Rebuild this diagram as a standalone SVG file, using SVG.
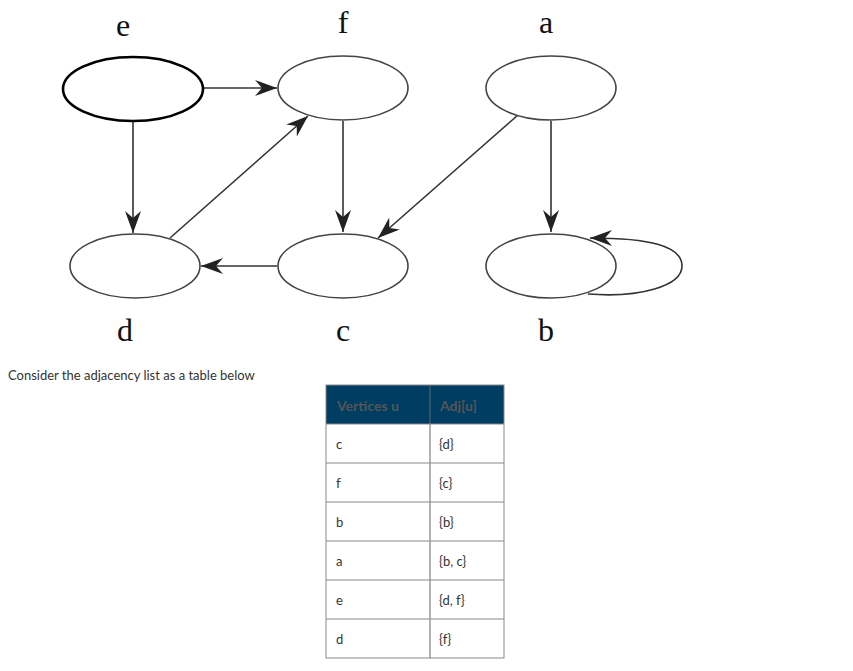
<svg xmlns="http://www.w3.org/2000/svg" width="853" height="671" viewBox="0 0 853 671">
<style>
.n{fill:#fff;stroke:#444;stroke-width:1.6}
.l{font-family:"Liberation Serif",serif;font-size:32px;fill:#111;text-anchor:middle}
.e{fill:none;stroke:#333;stroke-width:1.6}
.t{font-family:"Lato","Liberation Sans",sans-serif;font-size:13px;fill:#333}
.h{font-family:"Lato","Liberation Sans",sans-serif;font-size:14px;font-weight:bold;fill:#555}
.g{fill:none;stroke:#888;stroke-width:1}
</style>
<defs><marker id="ar" markerWidth="24" markerHeight="16" refX="22" refY="8" orient="auto" markerUnits="userSpaceOnUse"><path d="M0,0 L22,8 L0,16 L7,8 Z" fill="#222"/></marker></defs>
<rect width="853" height="671" fill="#fff"/>
<g id="connectors">
<line class="e" x1="204" y1="88" x2="277" y2="88" marker-end="url(#ar)"/>
<line class="e" x1="133" y1="122" x2="133" y2="233" marker-end="url(#ar)"/>
<line class="e" x1="170" y1="238" x2="308" y2="116" marker-end="url(#ar)"/>
<line class="e" x1="343" y1="121" x2="343" y2="232" marker-end="url(#ar)"/>
<line class="e" x1="518" y1="115" x2="378" y2="238" marker-end="url(#ar)"/>
<line class="e" x1="551" y1="121" x2="551" y2="232" marker-end="url(#ar)"/>
<line class="e" x1="277" y1="266" x2="201" y2="266" marker-end="url(#ar)"/>
<path class="e" d="M588,294 C640,298 682,286 682,266 C682,246 650,238 590,238" marker-end="url(#ar)"/>
</g>
<g id="e"><ellipse class="n" cx="133" cy="89" rx="70" ry="32" style="stroke:#000;stroke-width:2.6"/><text class="l" x="123" y="36">e</text></g>
<g id="f"><ellipse class="n" cx="343" cy="88" rx="65" ry="32"/><text class="l" x="343" y="33">f</text></g>
<g id="a"><ellipse class="n" cx="551" cy="88" rx="65" ry="32"/><text class="l" x="546" y="33">a</text></g>
<g id="d"><ellipse class="n" cx="135" cy="266" rx="65" ry="32"/><text class="l" x="125" y="341">d</text></g>
<g id="c"><ellipse class="n" cx="343" cy="266" rx="65" ry="32"/><text class="l" x="343" y="341">c</text></g>
<g id="b"><ellipse class="n" cx="551" cy="266" rx="65" ry="32"/><text class="l" x="546" y="341">b</text></g>
<text class="t" x="8" y="380">Consider the adjacency list as a table below</text>
<g id="table">
<rect x="326" y="385" width="178" height="39" fill="#003d63"/>
<rect class="g" x="326" y="385" width="178" height="273"/>
<line class="g" x1="430" y1="385" x2="430" y2="658" style="stroke:#666"/>
<g class="g"><line x1="326" y1="424" x2="504" y2="424"/><line x1="326" y1="463" x2="504" y2="463"/><line x1="326" y1="502" x2="504" y2="502"/><line x1="326" y1="541" x2="504" y2="541"/><line x1="326" y1="580" x2="504" y2="580"/><line x1="326" y1="619" x2="504" y2="619"/></g>
<text class="h" x="337" y="411">Vertices u</text><text class="h" x="440" y="411">Adj[u]</text>
<text class="t" x="336" y="449">c</text><text class="t" x="439" y="449">{d}</text>
<text class="t" x="336" y="488">f</text><text class="t" x="439" y="488">{c}</text>
<text class="t" x="336" y="527">b</text><text class="t" x="439" y="527">{b}</text>
<text class="t" x="336" y="566">a</text><text class="t" x="439" y="566">{b, c}</text>
<text class="t" x="336" y="605">e</text><text class="t" x="439" y="605">{d, f}</text>
<text class="t" x="336" y="644">d</text><text class="t" x="439" y="644">{f}</text>
</g>
</svg>
